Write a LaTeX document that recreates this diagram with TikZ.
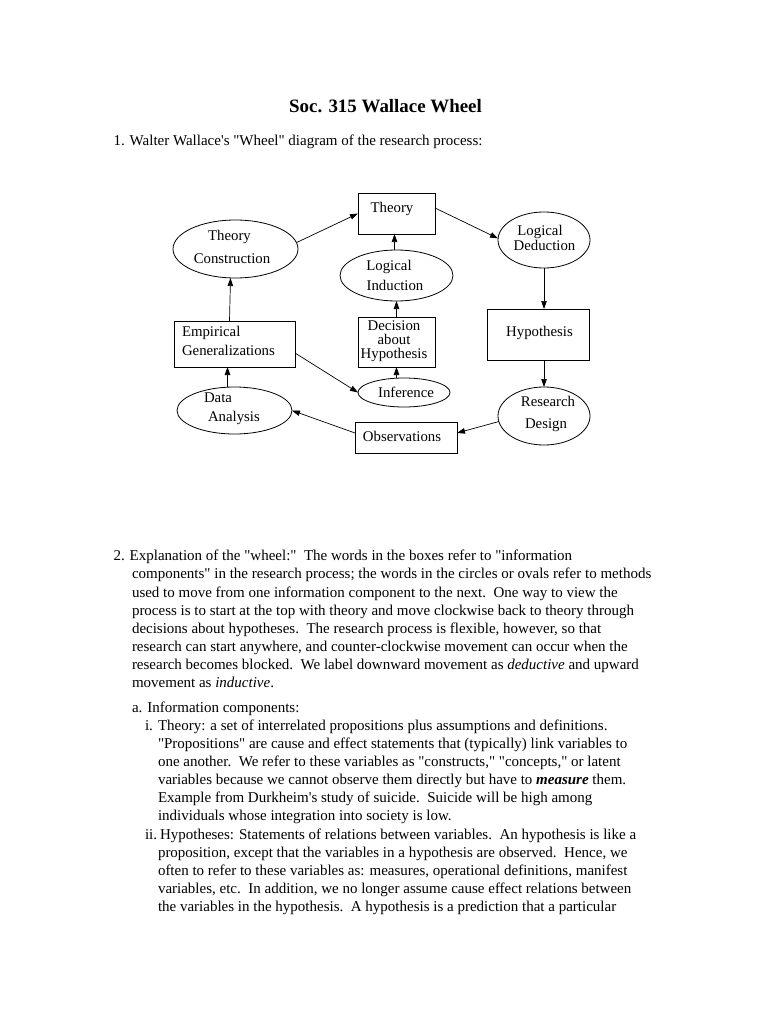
\documentclass[tikz,border=0pt]{standalone}
\usepackage{fontspec}
\setmainfont{Liberation Serif}[Ligatures=TeXOff]
\usetikzlibrary{arrows.meta,shapes.geometric}
\newcommand\dsp{\hspace{7.5pt}}
\begin{document}
\begin{tikzpicture}[x=1pt,y=-1pt,
  every node/.style={inner sep=0pt,outer sep=0pt},
  body/.style={anchor=base west,font=\fontsize{15}{18}\selectfont},
  lbl/.style={anchor=base,font=\fontsize{14.8}{17}\selectfont},
  lblw/.style={anchor=base west,font=\fontsize{14.8}{17}\selectfont},
  boxn/.style={draw,rectangle,line width=0.8pt},
  ovaln/.style={draw,ellipse,line width=0.8pt},
  arr/.style={line width=0.7pt,-{Triangle[length=8pt,width=5.5pt]}}]
\useasboundingbox[fill=white] (0,0) rectangle (768,1024);

% header
\node[anchor=base,font=\fontsize{18.9}{22}\selectfont\bfseries] (title) at (385.5,112.7) {Soc. 315 Wallace Wheel};
\node[body] (h1) at (113.5,146) {1. Walter Wallace's "Wheel" diagram of the research process:};

% diagram shapes
\node[boxn,minimum width=77pt,minimum height=41pt] (theory) at (396.5,213.5) {};
\node[ovaln,minimum width=125pt,minimum height=58pt] (tc) at (235.5,249) {};
\node[ovaln,minimum width=113pt,minimum height=51pt] (li) at (396.5,275.5) {};
\node[ovaln,minimum width=92pt,minimum height=56pt] (ld) at (544,240) {};
\node[boxn,minimum width=102pt,minimum height=51pt] (hyp) at (538,334.5) {};
\node[ovaln,minimum width=92pt,minimum height=58pt] (rd) at (544,416) {};
\node[boxn,minimum width=102pt,minimum height=31pt] (obs) at (406,437.5) {};
\node[ovaln,minimum width=115pt,minimum height=47pt] (da) at (234.5,410.5) {};
\node[boxn,minimum width=121pt,minimum height=46pt] (eg) at (234.5,344) {};
\node[boxn,minimum width=77pt,minimum height=50pt] (dec) at (396.5,342) {};
\node[ovaln,minimum width=92pt,minimum height=29pt] (inf) at (404,392.5) {};

% diagram labels
\node[lbl] (theory-l) at (392,212.7) {Theory};
\node[lbl] (tc-l1) at (229.5,240.7) {Theory};
\node[lbl] (tc-l2) at (232,263.3) {Construction};
\node[lbl] (li-l1) at (389,270.7) {Logical};
\node[lbl] (li-l2) at (395,290) {Induction};
\node[lbl] (ld-l1) at (540,235.7) {Logical};
\node[lbl] (ld-l2) at (544.5,251) {Deduction};
\node[lbl] (hyp-l) at (539.5,336.5) {Hypothesis};
\node[lbl] (rd-l1) at (548,406) {Research};
\node[lbl] (rd-l2) at (546,428.8) {Design};
\node[lbl] (obs-l) at (402,441.7) {Observations};
\node[lbl] (inf-l) at (406,397.7) {Inference};
\node[lbl,align=center,anchor=north] (dec-l) at (394,321)
  {Decision\\[-3.6pt]about\\[-3pt]Hypothesis};
\node[lblw] (eg-l1) at (182,336) {Empirical};
\node[lblw] (eg-l2) at (182,355.5) {Generalizations};
\node[lblw] (da-l1) at (204,402.7) {Data};
\node[lblw] (da-l2) at (208,421) {Analysis};

% connectors
\draw[arr] (tc.6.5) -- (theory.west);
\draw[arr] ([yshift=5.5pt]theory.east) -- (ld.178);
\draw[arr] (ld.south) -- (ld.south |- hyp.north);
\draw[arr] (hyp.south -| rd.north) -- (rd.north);
\draw[arr] (rd.187.4) -- ([yshift=4.5pt]obs.east);
\draw[arr] ([yshift=4.5pt]obs.west) -- (da.east);
\draw[arr] ([xshift=-7pt]da.north) -- ([xshift=-7pt]eg.south);
\draw[arr] ([xshift=-5pt]eg.north) -- ([xshift=-5pt]tc.south);
\draw[arr] ([yshift=-9pt]eg.east) -- (inf.west);
\draw[arr] (inf.north -| dec.south) -- (dec.south);
\draw[arr] (dec.north) -- (li.south);
\draw[arr] ([xshift=-2pt]li.north) -- ([xshift=-2pt]theory.south);

% section 2
\node[body] (p1) at (113.5,560.7) {2. Explanation of the "wheel:"\dsp The words in the boxes refer to "information};
\node[body] (p2) at (132,578.9) {components" in the research process; the words in the circles or ovals refer to methods};
\node[body] (p3) at (132,597.0) {used to move from one information component to the next.\dsp One way to view the};
\node[body] (p4) at (132,615.2) {process is to start at the top with theory and move clockwise back to theory through};
\node[body] (p5) at (132,633.3) {decisions about hypotheses.\dsp The research process is flexible, however, so that};
\node[body] (p6) at (132,651.5) {research can start anywhere, and counter-clockwise movement can occur when the};
\node[body] (p7) at (132,669.6) {research becomes blocked.\dsp We label downward movement as \textit{deductive} and upward};
\node[body] (p8) at (132,687.8) {movement as \textit{inductive}.};

\node[body] (a1) at (132,712.0) {a. Information components:};
\node[body] (i0) at (145,730.2) {i.};
\node[body] (i1) at (158,730.2) {Theory: a set of interrelated propositions plus assumptions and definitions.};
\node[body] (i2) at (158,748.3) {"Propositions" are cause and effect statements that (typically) link variables to};
\node[body] (i3) at (158,766.5) {one another.\dsp We refer to these variables as "constructs," "concepts," or latent};
\node[body] (i4) at (158,784.6) {variables because we cannot observe them directly but have to \textbf{\textit{measure}} them.};
\node[body] (i5) at (158,802.8) {Example from Durkheim's study of suicide.\dsp Suicide will be high among};
\node[body] (i6) at (158,820.9) {individuals whose integration into society is low.};
\node[body] (ii0) at (145,839.1) {ii.};
\node[body] (ii1) at (160,839.1) {Hypotheses: Statements of relations between variables.\dsp An hypothesis is like a};
\node[body] (ii2) at (158,857.2) {proposition, except that the variables in a hypothesis are observed.\dsp Hence, we};
\node[body] (ii3) at (158,875.4) {often to refer to these variables as: measures, operational definitions, manifest};
\node[body] (ii4) at (158,893.5) {variables, etc.\dsp In addition, we no longer assume cause effect relations between};
\node[body] (ii5) at (158,911.7) {the variables in the hypothesis.\dsp A hypothesis is a prediction that a particular};
\end{tikzpicture}
\end{document}
